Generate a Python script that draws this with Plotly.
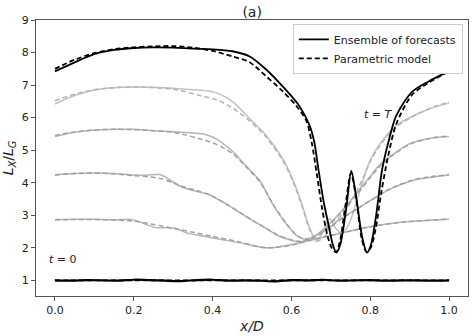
import plotly.graph_objects as go

# ---- t = T (final time) ----
xT_ens = [0, 0.05, 0.1, 0.15, 0.2, 0.25, 0.3, 0.35, 0.4, 0.45, 0.494, 0.536, 0.577, 0.62, 0.646,
          0.658, 0.668, 0.682, 0.696, 0.705, 0.714, 0.724, 0.739, 0.752, 0.765, 0.78, 0.792,
          0.802, 0.815, 0.83, 0.845, 0.866, 0.906, 0.949, 1.0]
yT_ens = [7.42, 7.7, 7.95, 8.08, 8.14, 8.16, 8.15, 8.12, 8.1, 8.04, 7.88, 7.48, 6.97, 6.36, 5.76,
          5.25, 4.45, 3.4, 2.6, 2.1, 1.85, 2.1, 3.2, 4.36, 3.5, 2.3, 1.85,
          2.1, 3.0, 4.4, 5.2, 6.06, 6.79, 7.12, 7.43]
xT_par = [0, 0.05, 0.1, 0.15, 0.2, 0.25, 0.3, 0.35, 0.4, 0.45, 0.494, 0.536, 0.577, 0.61, 0.638,
          0.652, 0.664, 0.678, 0.692, 0.703, 0.713, 0.723, 0.737, 0.751, 0.764, 0.778, 0.79,
          0.801, 0.814, 0.828, 0.845, 0.866, 0.906, 0.949, 1.0]
yT_par = [7.5, 7.78, 7.98, 8.1, 8.16, 8.19, 8.2, 8.15, 8.05, 7.88, 7.7, 7.27, 6.82, 6.4, 5.9,
          5.2, 4.3, 3.2, 2.35, 1.98, 1.87, 2.2, 3.3, 4.3, 3.55, 2.3, 1.88,
          2.0, 2.6, 3.7, 4.8, 5.8, 6.7, 7.08, 7.42]

# ---- intermediate times ----
x1_ens = [0, 0.05, 0.1, 0.15, 0.2, 0.25, 0.3, 0.35, 0.38, 0.41, 0.45, 0.494, 0.536, 0.577, 0.6,
          0.625, 0.645, 0.663, 0.68, 0.697, 0.712, 0.728, 0.745, 0.762, 0.78, 0.8, 0.825, 0.866,
          0.9, 0.932, 0.965, 1.0]
y1_ens = [6.42, 6.68, 6.85, 6.92, 6.94, 6.93, 6.9, 6.86, 6.83, 6.76, 6.5, 5.97, 5.45, 4.76, 4.2,
          3.4, 2.65, 2.2, 2.5, 2.9, 2.6, 2.45, 2.7, 3.3, 4.0, 4.7, 5.2, 5.76,
          6.0, 6.18, 6.33, 6.45]
x1_par = [0, 0.05, 0.1, 0.15, 0.2, 0.25, 0.3, 0.33, 0.367, 0.41, 0.45, 0.494, 0.536, 0.577, 0.6,
          0.625, 0.645, 0.663, 0.68, 0.7, 0.72, 0.74, 0.76, 0.78, 0.8, 0.825, 0.866, 0.9, 0.932,
          0.965, 1.0]
y1_par = [6.52, 6.72, 6.86, 6.92, 6.94, 6.92, 6.87, 6.8, 6.68, 6.55, 6.3, 5.9, 5.4, 4.7, 4.15,
          3.35, 2.6, 2.2, 2.3, 2.6, 2.9, 3.2, 3.6, 4.1, 4.65, 5.15, 5.72, 5.98, 6.18,
          6.35, 6.48]

x2_ens = [0, 0.05, 0.1, 0.15, 0.2, 0.25, 0.3, 0.35, 0.38, 0.41, 0.45, 0.48, 0.52, 0.553, 0.587,
          0.612, 0.63, 0.65, 0.68, 0.72, 0.76, 0.8, 0.82, 0.85, 0.9, 0.95, 1.0]
y2_ens = [5.42, 5.55, 5.62, 5.64, 5.64, 5.6, 5.57, 5.53, 5.49, 5.34, 4.97, 4.58, 4.06, 3.33, 2.73,
          2.39, 2.27, 2.3, 2.55, 3.03, 3.6, 4.2, 4.5, 4.8, 5.2, 5.36, 5.42]
x2_par = [0, 0.05, 0.1, 0.15, 0.2, 0.25, 0.3, 0.33, 0.367, 0.41, 0.45, 0.48, 0.52, 0.553, 0.587,
          0.612, 0.63, 0.65, 0.68, 0.72, 0.76, 0.8, 0.82, 0.85, 0.9, 0.95, 1.0]
y2_par = [5.45, 5.56, 5.62, 5.64, 5.63, 5.6, 5.55, 5.47, 5.35, 5.18, 4.9, 4.55, 4.02, 3.35, 2.75,
          2.4, 2.28, 2.3, 2.52, 3.0, 3.55, 4.15, 4.45, 4.78, 5.18, 5.36, 5.44]

x3_ens = [0, 0.05, 0.1, 0.15, 0.2, 0.23, 0.266, 0.29, 0.316, 0.35, 0.39, 0.43, 0.468, 0.5,
          0.536, 0.565, 0.595, 0.62, 0.65, 0.688, 0.72, 0.764, 0.8, 0.848, 0.906, 0.95, 1.0]
y3_ens = [4.24, 4.28, 4.3, 4.28, 4.24, 4.23, 4.25, 4.1, 3.9, 3.76, 3.64, 3.38, 3.09, 2.85,
          2.6, 2.38, 2.25, 2.18, 2.3, 2.55, 2.85, 3.18, 3.45, 3.79, 4.06, 4.16, 4.24]
x3_par = [0, 0.05, 0.1, 0.15, 0.2, 0.24, 0.27, 0.3, 0.33, 0.36, 0.39, 0.43, 0.468, 0.5,
          0.536, 0.565, 0.595, 0.62, 0.65, 0.688, 0.72, 0.764, 0.8, 0.848, 0.906, 0.95, 1.0]
y3_par = [4.24, 4.28, 4.3, 4.27, 4.22, 4.18, 4.12, 4.0, 3.86, 3.76, 3.64, 3.38, 3.1, 2.85,
          2.6, 2.4, 2.26, 2.2, 2.28, 2.53, 2.83, 3.17, 3.45, 3.8, 4.08, 4.18, 4.25]

x4_ens = [0, 0.05, 0.1, 0.15, 0.19, 0.21, 0.235, 0.258, 0.283, 0.305, 0.334, 0.367, 0.4, 0.468,
          0.537, 0.6, 0.63, 0.714, 0.797, 0.883, 1.0]
y4_ens = [2.87, 2.88, 2.88, 2.86, 2.88, 2.82, 2.7, 2.62, 2.62, 2.6, 2.46, 2.38, 2.3, 2.16,
          2.0, 2.1, 2.18, 2.42, 2.64, 2.79, 2.88]
x4_par = [0, 0.1, 0.2, 0.25, 0.3, 0.35, 0.4, 0.468, 0.537, 0.6, 0.63, 0.714, 0.797, 0.883, 1.0]
y4_par = [2.86, 2.87, 2.82, 2.72, 2.6, 2.48, 2.35, 2.18, 2.0, 2.08, 2.18, 2.42, 2.64, 2.79, 2.88]

# ---- t = 0 (initial state) ----
x0 = [0.0, 0.04, 0.08, 0.12, 0.16, 0.2, 0.24, 0.28, 0.32, 0.36, 0.4, 0.44, 0.48, 0.52, 0.56,
      0.6, 0.64, 0.68, 0.72, 0.76, 0.8, 0.84, 0.88, 0.92, 0.96, 1.0]
y0_ens = [1.0, 0.99, 1.01, 1.0, 0.99, 1.02, 1.01, 0.99, 0.98, 1.01, 1.02, 0.99, 1.0, 0.99, 0.97,
          1.01, 1.0, 1.02, 0.99, 1.0, 1.01, 0.99, 1.0, 1.0, 0.99, 1.0]
y0_par = [1.0] * len(x0)

intermediate = [
    (x1_ens, y1_ens, x1_par, y1_par, "#c2c2c2", "#b4b4b4"),
    (x2_ens, y2_ens, x2_par, y2_par, "#b6b6b6", "#a2a2a2"),
    (x3_ens, y3_ens, x3_par, y3_par, "#b6b6b6", "#a0a0a0"),
    (x4_ens, y4_ens, x4_par, y4_par, "#b6b6b6", "#a0a0a0"),
]

fig = go.Figure()

def add_line(x, y, color, width, dash="solid", name=None, legend=False):
    fig.add_trace(go.Scatter(
        x=x, y=y, mode="lines", name=name, showlegend=legend,
        line=dict(color=color, width=width, dash=dash, shape="spline", smoothing=0.8),
    ))

for xe, ye, xp, yp, ce, cp in intermediate:
    add_line(xe, ye, ce, 1.5)
    add_line(xp, yp, cp, 1.5, dash="5px,3px")

add_line(x0, y0_par, "black", 1.6, dash="5px,3px")
add_line(x0, y0_ens, "black", 2.2)
add_line(xT_ens, yT_ens, "black", 1.8, name="Ensemble of forecasts", legend=True)
add_line(xT_par, yT_par, "black", 1.8, dash="5px,3px", name="Parametric model", legend=True)

font = "DejaVu Sans, sans-serif"
fig.update_layout(
    width=474, height=336,
    margin=dict(l=36, r=5, t=20, b=36),
    paper_bgcolor="white", plot_bgcolor="white",
    font=dict(family=font, size=11, color="#222"),
    title=dict(text="(a)", x=0.532, xanchor="center", y=0.965, yanchor="middle",
               font=dict(size=14, color="#222")),
    legend=dict(x=0.988, y=0.986, xanchor="right", yanchor="top",
                bgcolor="white", bordercolor="#cccccc", borderwidth=1,
                font=dict(size=11), tracegroupgap=0, itemwidth=30),
    showlegend=True,
)
fig.update_xaxes(range=[-0.048, 1.048], tickvals=[0, 0.2, 0.4, 0.6, 0.8, 1.0],
                 ticktext=["0.0", "0.2", "0.4", "0.6", "0.8", "1.0"],
                 showgrid=False, zeroline=False, showline=True, mirror=True,
                 linecolor="#555", linewidth=1, ticks="outside", ticklen=4, tickcolor="#555",
                 title=dict(text="<i>x/D</i>", font=dict(size=14), standoff=4))
fig.update_yaxes(range=[0.52, 9.0], tickvals=[1, 2, 3, 4, 5, 6, 7, 8, 9],
                 showgrid=False, zeroline=False, showline=True, mirror=True,
                 linecolor="#555", linewidth=1, ticks="outside", ticklen=4, tickcolor="#555",
                 title=dict(text="<i>L<sub>X</sub></i>/<i>L<sub>G</sub></i>", font=dict(size=14),
                            standoff=6))

fig.add_annotation(x=0.82, y=6.09, text="<i>t</i> = <i>T</i>", showarrow=False,
                   font=dict(size=11, color="#222"))
fig.add_annotation(x=0.02, y=1.64, text="<i>t</i> = 0", showarrow=False,
                   font=dict(size=11, color="#222"))

fig.write_html("out.html")
